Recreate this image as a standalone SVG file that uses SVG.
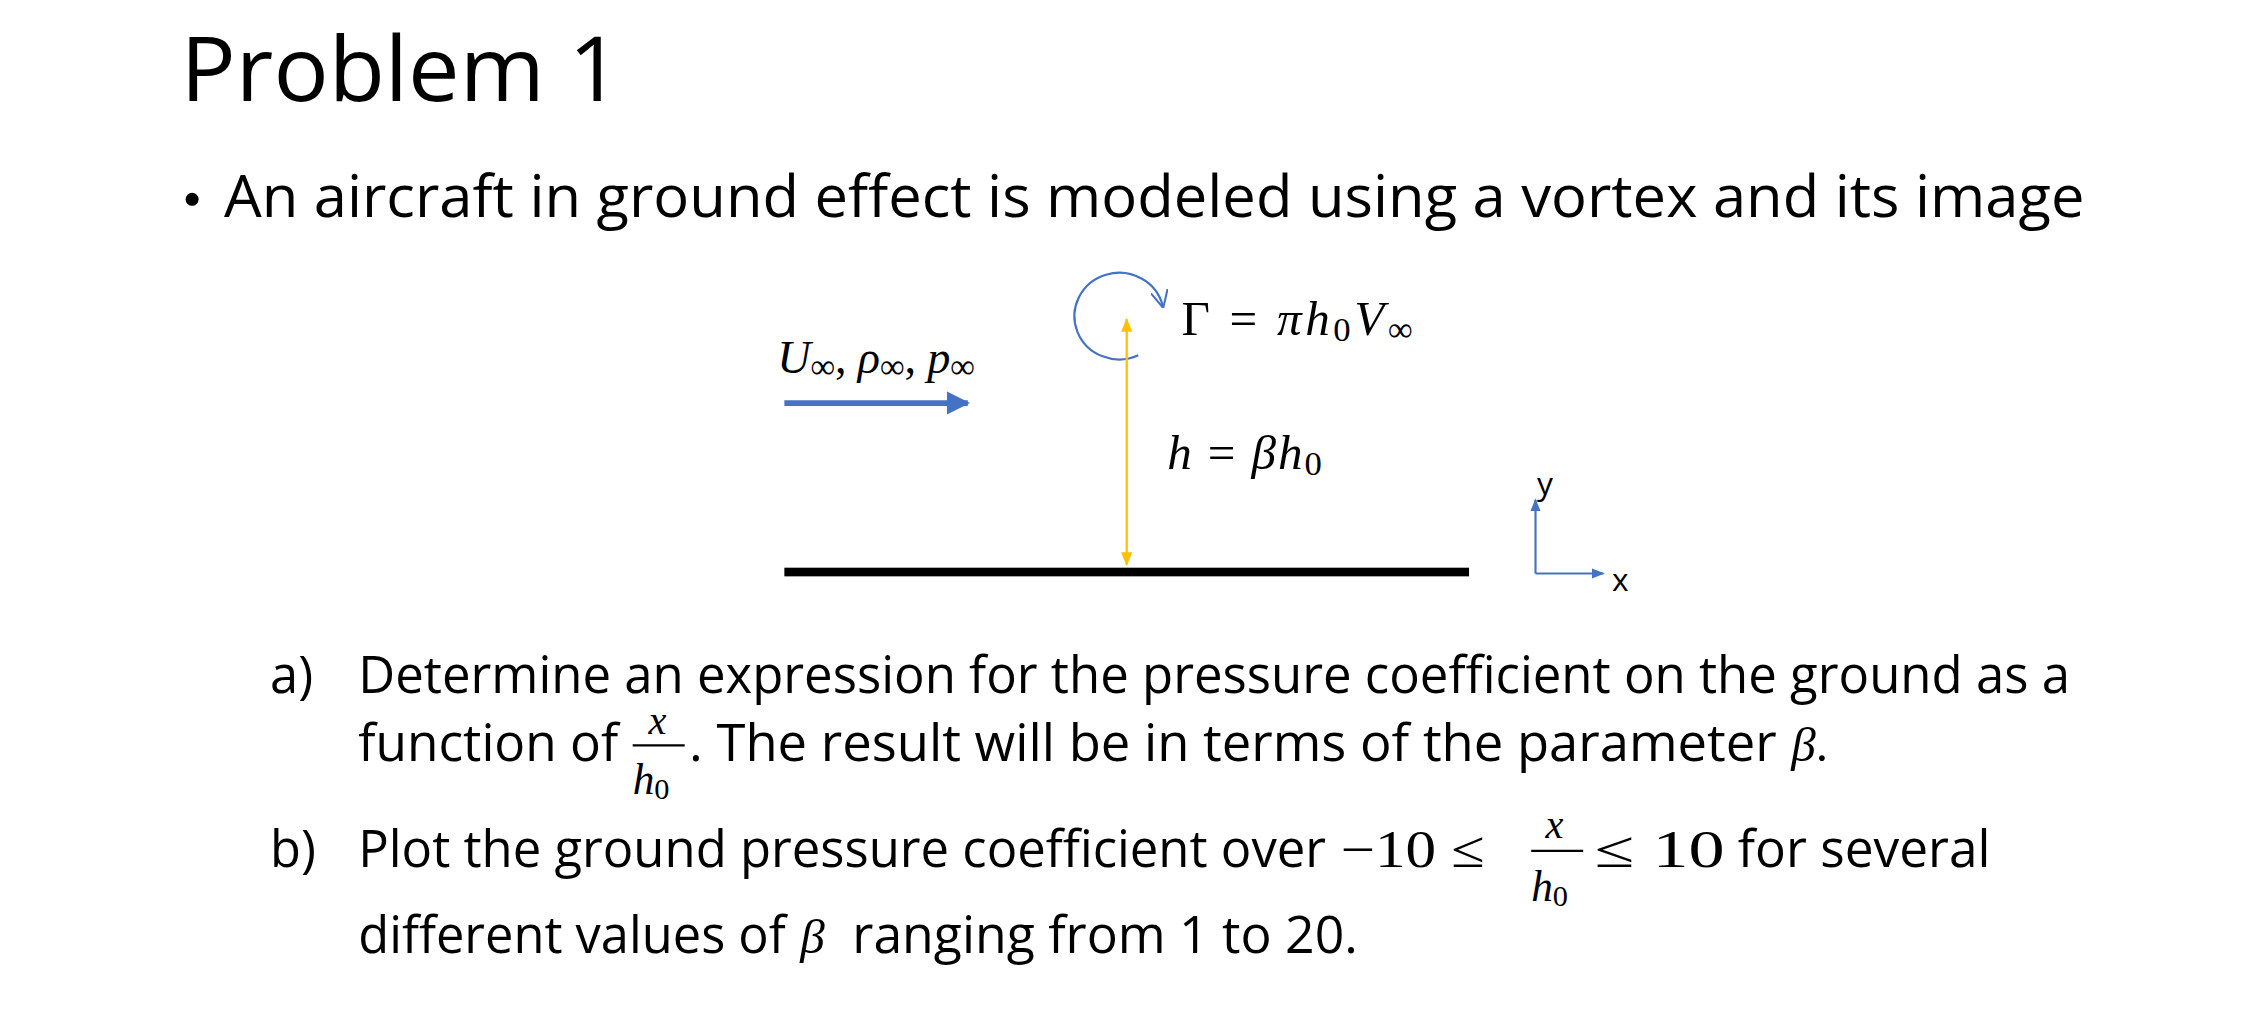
<svg xmlns="http://www.w3.org/2000/svg" width="2265" height="1031" viewBox="0 0 2265 1031">
<defs>
<style>
.t{font-family:"Open Sans","Liberation Sans",sans-serif;fill:#000}
.m{font-family:"Liberation Serif",serif;font-style:italic;fill:#000}
.r{font-family:"Liberation Serif",serif;fill:#000}
</style>
<marker id="ab" viewBox="0 0 10 10" refX="9" refY="5" markerWidth="4" markerHeight="4" orient="auto"><path d="M0,0L10,5L0,10z" fill="#4472C4"/></marker>
<marker id="abs" viewBox="0 0 10 10" refX="9" refY="5" markerWidth="6" markerHeight="6" orient="auto"><path d="M0,1L10,5L0,9z" fill="#4472C4"/></marker>
<marker id="ao" viewBox="0 0 10 10" refX="9" refY="5" markerWidth="6" markerHeight="6" orient="auto-start-reverse"><path d="M0,1L10,5L0,9z" fill="#FFC000"/></marker>
<marker id="av" viewBox="0 0 10 10" refX="9" refY="5" markerWidth="8" markerHeight="8" orient="auto"><path d="M0,0L10,5L0,10" fill="none" stroke="#4472C4" stroke-width="1.2"/></marker>
</defs>
<rect width="2265" height="1031" fill="#fff"/>
<g transform="scale(1.4445)">
<text id="title" class="t" x="125" y="70" font-size="62" textLength="305" lengthAdjust="spacingAndGlyphs">Problem 1</text>
<circle cx="133" cy="138" r="4.5" fill="#000"/>
<text id="intro" class="t" x="155" y="150" font-size="40" textLength="1288" lengthAdjust="spacingAndGlyphs">An aircraft in ground effect is modeled using a vortex and its image</text>
<g id="connectors">
<path d="M788,246 A31,30 0 1 1 805,212" fill="none" stroke="#4472C4" stroke-width="1.5" marker-end="url(#av)"/>
<line x1="543" y1="279" x2="670" y2="279" stroke="#4472C4" stroke-width="4" marker-end="url(#ab)"/>
<line x1="780" y1="221" x2="780" y2="391" stroke="#FFC000" stroke-width="1.6" marker-start="url(#ao)" marker-end="url(#ao)"/>
<line x1="1063" y1="397" x2="1063" y2="346" stroke="#4472C4" stroke-width="1.5" marker-end="url(#abs)"/>
<line x1="1063" y1="397" x2="1110" y2="397" stroke="#4472C4" stroke-width="1.5" marker-end="url(#abs)"/>
</g>
<g id="ground"><rect x="543" y="393" width="474" height="6" fill="#000"/></g>
<text id="gamma" class="m" x="818" y="232" font-size="34" textLength="160" lengthAdjust="spacing"><tspan font-style="normal">Γ = </tspan>π<tspan>h</tspan><tspan font-style="normal" font-size="24" dy="4">0</tspan><tspan dy="-4">V</tspan><tspan font-style="normal" font-size="24" dy="4">∞</tspan></text>
<text id="freestream" class="m" x="538" y="258" font-size="32" textLength="137" lengthAdjust="spacing">U<tspan font-style="normal" font-size="24" dy="4">∞</tspan><tspan dy="-4" font-style="normal">, </tspan>ρ<tspan font-style="normal" font-size="24" dy="4">∞</tspan><tspan dy="-4" font-style="normal">, </tspan>p<tspan font-style="normal" font-size="24" dy="4">∞</tspan></text>
<text id="height" class="m" x="808" y="325" font-size="34" textLength="107" lengthAdjust="spacing">h<tspan font-style="normal"> = </tspan>βh<tspan font-style="normal" font-size="24" dy="4">0</tspan></text>
<text id="ylab" class="t" x="1064" y="343" font-size="22">y</text>
<text id="xlab" class="t" x="1116" y="409" font-size="22">x</text>
<text class="t" x="187" y="480" font-size="35">a)</text>
<text class="t" x="248" y="480" font-size="35" textLength="1185" lengthAdjust="spacingAndGlyphs">Determine an expression for the pressure coefficient on the ground as a</text>
<text class="t" x="248" y="527" font-size="35" textLength="180" lengthAdjust="spacingAndGlyphs">function of</text>
<text class="m" x="449" y="508" font-size="28">x</text>
<line x1="438" y1="516" x2="474" y2="516" stroke="#000" stroke-width="1.5"/>
<text class="m" x="438" y="550" font-size="30">h<tspan font-style="normal" font-size="21" dy="3">0</tspan></text>
<text class="t" x="477" y="527" font-size="35" textLength="753" lengthAdjust="spacingAndGlyphs">.  The result will be in terms of the parameter</text>
<text class="m" x="1240" y="527" font-size="34">β<tspan font-style="normal">.</tspan></text>
<text class="t" x="187" y="600" font-size="35">b)</text>
<text class="t" x="248" y="600" font-size="35" textLength="670" lengthAdjust="spacingAndGlyphs">Plot the ground pressure coefficient over</text>
<text class="r" x="928" y="600" font-size="36" textLength="100" lengthAdjust="spacingAndGlyphs">−10 ≤</text>
<text class="m" x="1070" y="580" font-size="28">x</text>
<line x1="1060" y1="589" x2="1096" y2="589" stroke="#000" stroke-width="1.5"/>
<text class="m" x="1060" y="624" font-size="30">h<tspan font-style="normal" font-size="21" dy="3">0</tspan></text>
<text class="r" x="1104" y="600" font-size="36" textLength="90" lengthAdjust="spacingAndGlyphs">≤ 10</text>
<text class="t" x="1203" y="600" font-size="35" textLength="175" lengthAdjust="spacingAndGlyphs">for several</text>
<text class="t" x="248" y="660" font-size="35" textLength="296" lengthAdjust="spacingAndGlyphs">different values of</text>
<text class="m" x="554" y="660" font-size="34">β</text>
<text class="t" x="590" y="660" font-size="35" textLength="350" lengthAdjust="spacingAndGlyphs">ranging from 1 to 20.</text>
</g>
</svg>
